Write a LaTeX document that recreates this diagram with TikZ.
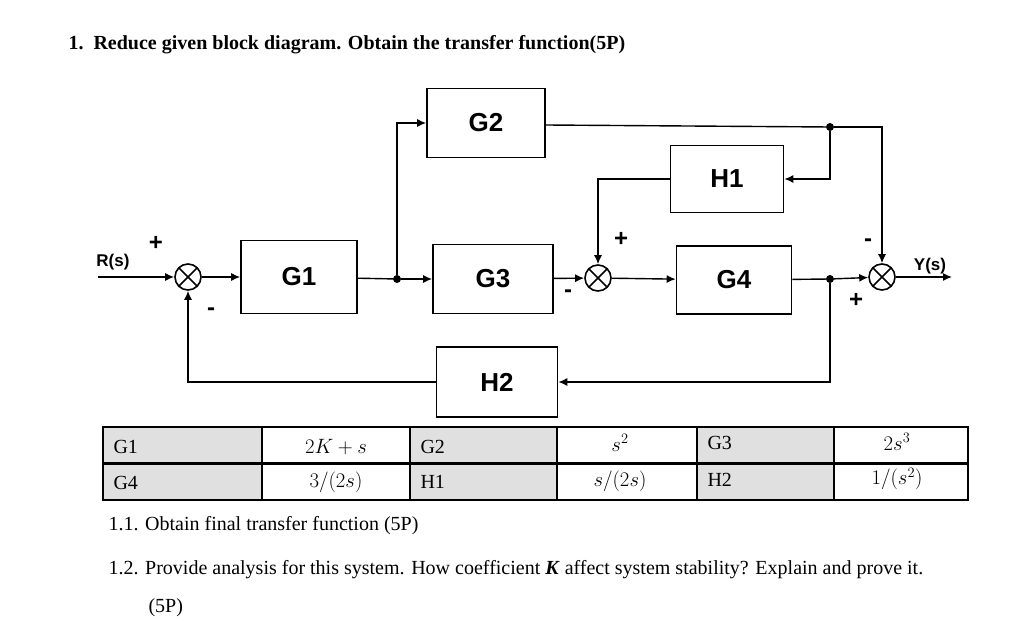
\documentclass[tikz,border=0pt]{standalone}
\usepackage{fontspec}
\setmainfont{Liberation Serif}
\newfontfamily\dsans{Liberation Sans}
\usetikzlibrary{arrows.meta}
\begin{document}
\begin{tikzpicture}[x=1pt,y=-1pt,
  blk/.style={draw,line width=1.6pt,font=\dsans\bfseries\fontsize{26}{28}\selectfont},
  sumj/.style={draw,circle,line width=1.6pt,minimum size=26pt,inner sep=0pt,path picture={\draw[line width=1.6pt] (path picture bounding box.north west)--(path picture bounding box.south east) (path picture bounding box.north east)--(path picture bounding box.south west);}},
  wire/.style={line width=1.4pt},
  arr/.style={wire,-{Latex[length=9pt,width=8pt]}},
  dot/.style={circle,fill,inner sep=0pt,minimum size=8pt},
  sg/.style={font=\dsans\bfseries\fontsize{24}{26}\selectfont},
  cell/.style={font=\fontsize{20}{22}\selectfont}]
\useasboundingbox (0,0) rectangle (1024,639);
\fill[white] (0,0) rectangle (1024,639);
\node[anchor=west,font=\bfseries\fontsize{20}{22}\selectfont] (title) at (65,45) {1.\ \ Reduce given block diagram. Obtain the transfer function(5P)};
% blocks
\node[blk,minimum width=118pt,minimum height=69pt] (G2) at (486,123) {G2};
\node[blk,minimum width=113pt,minimum height=67pt] (H1) at (727,179) {H1};
\node[blk,minimum width=116pt,minimum height=73pt] (G1) at (299,277) {G1};
\node[blk,minimum width=120pt,minimum height=69pt] (G3) at (493,279) {G3};
\node[blk,minimum width=115pt,minimum height=68pt] (G4) at (734,280) {G4};
\node[blk,minimum width=121pt,minimum height=70pt] (H2) at (497,382) {H2};
\node[sumj] (S1) at (188,277) {};
\node[sumj] (S2) at (598,278) {};
\node[sumj] (S3) at (882,277) {};
\node[dot] (J1) at (397,279) {};
\node[dot] (J2) at (830,279) {};
\node[dot] (J3) at (830,127) {};
\node[font=\dsans\bfseries\fontsize{17}{19}\selectfont] (R) at (113,262) {R(s)};
\node[font=\dsans\bfseries\fontsize{17}{19}\selectfont] (Y) at (930,266) {Y(s)};
\coordinate (Rin) at (98,277);
\coordinate (Yout) at (952,277);
% signs
\node[sg] at (156,243) {+};
\node[sg] at (211,312) {-};
\node[sg] at (568,294) {-};
\node[sg] at (621,239) {+};
\node[sg] at (868,243) {-};
\node[sg] at (856,300) {+};
% wires
\draw[arr] (Rin) -- (S1);
\draw[arr] (S1) -- (G1);
\draw[wire] (G1) -- (J1);
\draw[arr] (J1) -- (G3);
\draw[arr] (J1) |- (G2.west);
\draw[arr] (G3) -- (S2);
\draw[arr] (S2) -- (G4);
\draw[wire] (G4) -- (J2);
\draw[arr] (J2) -- (S3);
\draw[arr] (S3) -- (Yout);
\draw[wire] (G2.east) ++(0,2) -- (J3);
\draw[arr] (J3) -| (S3.north);
\draw[arr] (J3) |- (H1.east);
\draw[arr] (H1.west) -| (S2.north);
\draw[arr] (J2) |- (H2.east);
\draw[arr] (H2.west) -| (S1.south);
% table
\foreach \xa/\xb/\f in {103/262/1,262/410/0,410/557/1,557/697/0,697/834/1,834/968/0}{
  \ifnum\f=1 \fill[black!12] (\xa,427) rectangle (\xb,500);\fi
}
\draw[line width=1.2pt] (103,427) rectangle (968,500);
\draw[line width=3pt] (103,463) -- (968,463);
\foreach \x in {262,410,557,697,834}{\draw[line width=1.2pt] (\x,427)--(\x,500);}
\node[cell,anchor=west] (c11) at (110,447) {G1};
\node[cell] (c12) at (336,447) {$2K+s$};
\node[cell,anchor=west] (c13) at (417,447) {G2};
\node[cell] (c14) at (620,443) {$s^2$};
\node[cell,anchor=west] (c15) at (704,443) {G3};
\node[cell] (c16) at (897,442) {$2s^3$};
\node[cell,anchor=west] (c21) at (110,483) {G4};
\node[cell] (c22) at (336,482) {$3/(2s)$};
\node[cell,anchor=west] (c23) at (417,482) {H1};
\node[cell] (c24) at (620,481) {$s/(2s)$};
\node[cell,anchor=west] (c25) at (704,480) {H2};
\node[cell] (c26) at (897,479) {$1/(s^2)$};
% questions
\node[anchor=west,font=\fontsize{20}{22}\selectfont] (q1) at (105,526) {1.1. Obtain final transfer function (5P)};
\node[anchor=west,font=\fontsize{20}{22}\selectfont] (q2) at (105,570) {1.2. Provide analysis for this system. How coefficient \textbf{\textit{K}} affect system stability? Explain and prove it.};
\node[anchor=west,font=\fontsize{20}{22}\selectfont] (q3) at (145,608) {(5P)};
\end{tikzpicture}
\end{document}
